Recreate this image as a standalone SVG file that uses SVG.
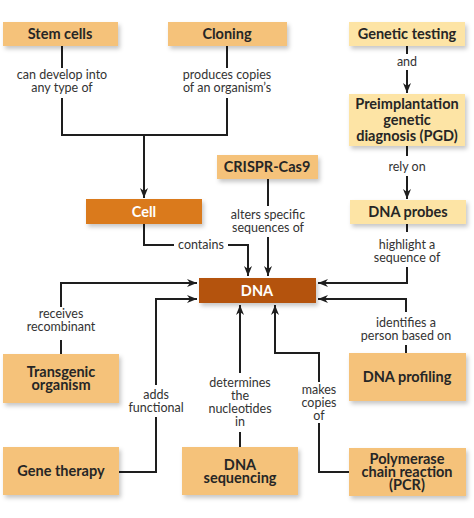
<svg xmlns="http://www.w3.org/2000/svg" width="474" height="518" viewBox="0 0 474 518">
<defs>
<filter id="sh" x="-10%" y="-20%" width="130%" height="160%">
<feDropShadow dx="2" dy="3" stdDeviation="2" flood-color="#000" flood-opacity="0.22"/>
</filter>
<marker id="ar" markerUnits="userSpaceOnUse" markerWidth="10" markerHeight="10" viewBox="0 0 10 10" refX="10" refY="5" orient="auto">
<path d="M0 1 L10 5 L0 9 L3 5 Z" fill="#1e1e1e"/>
</marker>
</defs>
<style>
.b{fill:#f5c27a;filter:url(#sh)}
.p{fill:#fde4a5;filter:url(#sh)}
.c{fill:#da7a1f;filter:url(#sh)}
.d{fill:#b4520f;filter:url(#sh)}
.t{font-family:Lato,"Open Sans","Liberation Sans",sans-serif;font-weight:bold;font-size:14.5px;fill:#262626;text-anchor:middle}
.w{fill:#fff}
.l{font-family:Lato,"Open Sans","Liberation Sans",sans-serif;font-size:12.5px;fill:#333;text-anchor:middle}
.e{fill:none;stroke:#1e1e1e;stroke-width:2}
</style>
<rect width="474" height="518" fill="#fff"/>
<g id="connectors">
<path class="e" d="M62 46V68M62 98V135H227V98M227 46V68"/>
<path class="e" d="M144 135V198" marker-end="url(#ar)"/>
<path class="e" d="M407 46V54"/>
<path class="e" d="M407 70V93" marker-end="url(#ar)"/>
<path class="e" d="M407 146V156"/>
<path class="e" d="M407 176V199" marker-end="url(#ar)"/>
<path class="e" d="M268 179V206"/>
<path class="e" d="M268 237V276" marker-end="url(#ar)"/>
<path class="e" d="M144 224V245H174"/>
<path class="e" d="M228 245H248V276" marker-end="url(#ar)"/>
<path class="e" d="M407 224V232"/>
<path class="e" d="M407 267V283H318" marker-end="url(#ar)"/>
<path class="e" d="M406 353V345"/>
<path class="e" d="M406 312V299H318" marker-end="url(#ar)"/>
<path class="e" d="M61 354V340"/>
<path class="e" d="M61 307V283H197" marker-end="url(#ar)"/>
<path class="e" d="M119 472H156V417"/>
<path class="e" d="M156 385V299H197" marker-end="url(#ar)"/>
<path class="e" d="M240 447V432"/>
<path class="e" d="M240 373V305" marker-end="url(#ar)"/>
<path class="e" d="M349 472H319V423"/>
<path class="e" d="M319 382V353H275V305" marker-end="url(#ar)"/>
<text class="l" x="62" y="79">can develop into</text>
<text class="l" x="62" y="92">any type of</text>
<text class="l" x="227" y="79">produces copies</text>
<text class="l" x="227" y="92">of an organism’s</text>
<text class="l" x="407" y="66">and</text>
<text class="l" x="407" y="171">rely on</text>
<text class="l" x="268" y="219">alters specific</text>
<text class="l" x="268" y="232">sequences of</text>
<text class="l" x="201" y="249">contains</text>
<text class="l" x="407" y="249">highlight a</text>
<text class="l" x="407" y="262">sequence of</text>
<text class="l" x="406" y="327">identifies a</text>
<text class="l" x="406" y="340">person based on</text>
<text class="l" x="61" y="318">receives</text>
<text class="l" x="61" y="331">recombinant</text>
<text class="l" x="156" y="399">adds</text>
<text class="l" x="156" y="412">functional</text>
<text class="l" x="240" y="387">determines</text>
<text class="l" x="240" y="400">the</text>
<text class="l" x="240" y="413">nucleotides</text>
<text class="l" x="240" y="426">in</text>
<text class="l" x="319" y="394">makes</text>
<text class="l" x="319" y="407">copies</text>
<text class="l" x="319" y="420">of</text>
</g>
<g id="stem-cells"><rect class="b" x="3" y="22" width="115" height="24"/><text class="t" x="60" y="39">Stem cells</text></g>
<g id="cloning"><rect class="b" x="168" y="22" width="119" height="24"/><text class="t" x="227" y="39">Cloning</text></g>
<g id="genetic-testing"><rect class="p" x="349" y="22" width="116" height="24"/><text class="t" x="407" y="39">Genetic testing</text></g>
<g id="pgd"><rect class="p" x="349" y="94" width="116" height="52"/><text class="t" x="407" y="109">Preimplantation</text><text class="t" x="407" y="125">genetic</text><text class="t" x="407" y="141">diagnosis (PGD)</text></g>
<g id="crispr"><rect class="b" x="217" y="155" width="101" height="24"/><text class="t" x="267" y="172">CRISPR-Cas9</text></g>
<g id="cell"><rect class="c" x="86" y="199" width="116" height="25"/><text class="t w" x="144" y="217">Cell</text></g>
<g id="dna-probes"><rect class="p" x="350" y="200" width="116" height="24"/><text class="t" x="408" y="217">DNA probes</text></g>
<g id="dna"><rect class="d" x="199" y="278" width="117" height="25"/><text class="t w" x="257" y="296">DNA</text></g>
<g id="transgenic"><rect class="b" x="3" y="354" width="116" height="49"/><text class="t" x="61" y="377">Transgenic</text><text class="t" x="61" y="390">organism</text></g>
<g id="dna-profiling"><rect class="b" x="349" y="353" width="117" height="48"/><text class="t" x="407" y="382">DNA profiling</text></g>
<g id="gene-therapy"><rect class="b" x="3" y="447" width="116" height="48"/><text class="t" x="61" y="476">Gene therapy</text></g>
<g id="dna-sequencing"><rect class="b" x="182" y="447" width="116" height="48"/><text class="t" x="240" y="470">DNA</text><text class="t" x="240" y="483">sequencing</text></g>
<g id="pcr"><rect class="b" x="349" y="448" width="117" height="48"/><text class="t" x="407" y="464">Polymerase</text><text class="t" x="407" y="477">chain reaction</text><text class="t" x="407" y="490">(PCR)</text></g>
</svg>
